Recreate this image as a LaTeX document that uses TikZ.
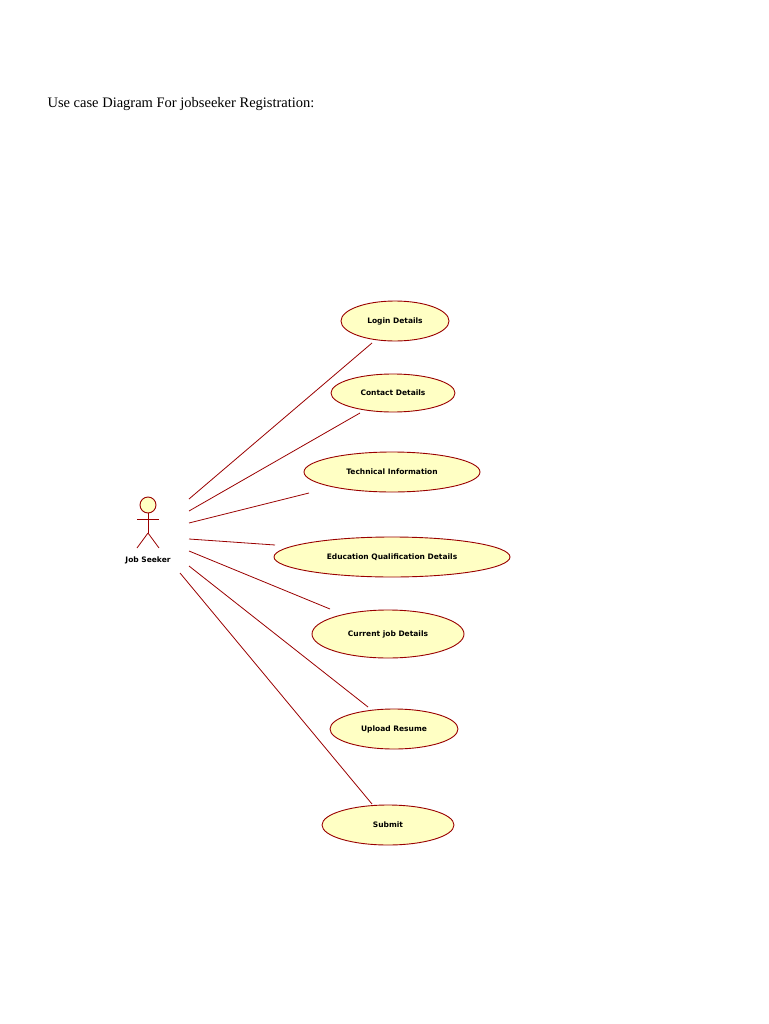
\documentclass[tikz,border=0pt]{standalone}
\usepackage{fontspec}
\setmainfont{Liberation Serif}
\newfontfamily\ucfont{DejaVu Sans}
\usetikzlibrary{shapes.geometric}
\definecolor{uline}{HTML}{990000}
\definecolor{ufill}{HTML}{FFFFC4}
\tikzset{
  uc/.style={ellipse,draw=uline,fill=ufill,line width=0.9pt,inner sep=0pt,font=\ucfont\bfseries\fontsize{7.5}{9}\selectfont},
  assoc/.style={draw=uline,line width=0.8pt}
}
\begin{document}
\begin{tikzpicture}[x=1pt,y=-1pt]
\useasboundingbox (0,0) rectangle (768,1024);
\node[anchor=west,font=\fontsize{14.5}{17}\selectfont] (title) at (44,104) {Use case Diagram For jobseeker Registration:};
\node[uc,minimum width=108,minimum height=40] (login) at (395,321) {Login Details};
\node[uc,minimum width=124,minimum height=38] (contact) at (393,393) {Contact Details};
\node[uc,minimum width=176,minimum height=40] (tech) at (392,472) {Technical Information};
\node[uc,minimum width=236,minimum height=40] (edu) at (392,557) {Education Qualification Details};
\node[uc,minimum width=152,minimum height=48] (job) at (388,634) {Current job Details};
\node[uc,minimum width=128,minimum height=40] (upload) at (394,729) {Upload Resume};
\node[uc,minimum width=132,minimum height=40] (submit) at (388,825) {Submit};
% actor
\node[circle,draw=uline,fill=ufill,line width=0.9pt,minimum size=16,inner sep=0pt] (head) at (148,505) {};
\coordinate (hip) at (148,533);
\draw[assoc] (head.south) -- (hip);
\draw[assoc] (137,519) -- (159,519);
\draw[assoc] (hip) -- (137,548);
\draw[assoc] (hip) -- (159,548);
\node[font=\ucfont\bfseries\fontsize{7.5}{9}\selectfont] (actorlbl) at (148,560) {Job Seeker};
% association ends
\coordinate (a1) at (189,499); \coordinate (b1) at (372,343);
\coordinate (a2) at (189,511); \coordinate (b2) at (360,413);
\coordinate (a3) at (189,523); \coordinate (b3) at (309,493);
\coordinate (a4) at (189,539); \coordinate (b4) at (275,545);
\coordinate (a5) at (189,551); \coordinate (b5) at (330,609);
\coordinate (a6) at (189,566); \coordinate (b6) at (368,707);
\coordinate (a7) at (180,573); \coordinate (b7) at (372,804);
\foreach \i in {1,...,7} {\draw[assoc] (a\i) -- (b\i);}
\end{tikzpicture}
\end{document}
